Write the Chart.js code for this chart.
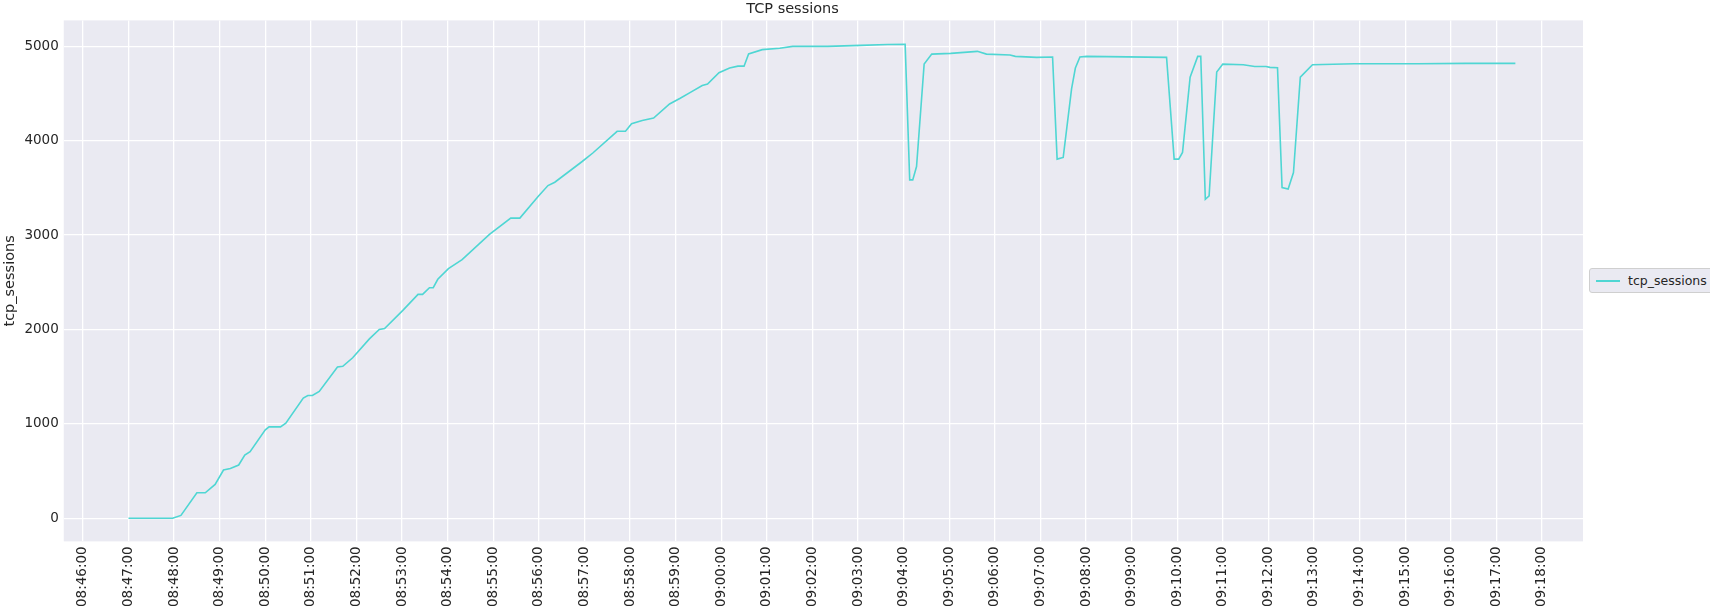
<!DOCTYPE html>
<html>
<head>
<meta charset="utf-8">
<script src="https://cdn.jsdelivr.net/npm/chart.js@4"></script>
<style>
  body { margin: 0; background: #fff; font-family: 'DejaVu Sans', sans-serif; }
  #wrap { position: relative; width: 1710px; height: 614px; }
  #legend { position: absolute; left: 1589px; top: 268px; background: #eaeaf2; border: 1px solid #cfcfcf; border-radius: 3px;
    padding: 4px 6px; font-size: 12.5px; color: #262626; display: flex; align-items: center; white-space: nowrap; }
  #legend span.sw { display: inline-block; width: 24px; height: 2px; background: #4fd6d3; margin-right: 8px; }
</style>
</head>
<body>
<div id="wrap">
  <canvas id="chart" width="1710" height="614"></canvas>
  <div id="legend"><span class="sw"></span>tcp_sessions</div>
</div>
<script>
const times = ['08:47:00','08:47:58','08:48:09','08:48:30','08:48:41','08:48:54','08:49:05','08:49:14','08:49:25','08:49:33','08:49:40',
  '08:50:00','08:50:05','08:50:20','08:50:27','08:50:50','08:50:56','08:51:02','08:51:11','08:51:35','08:51:42','08:51:55',
  '08:52:17','08:52:30','08:52:37','08:53:01','08:53:21','08:53:27','08:53:36','08:53:41','08:53:47','08:54:01','08:54:19',
  '08:54:55','08:55:23','08:55:35','08:55:59','08:56:12','08:56:21','08:56:57','08:57:11','08:57:43','08:57:54','08:58:02',
  '08:58:16','08:58:31','08:58:52','08:59:06','08:59:20','08:59:35','08:59:42','08:59:57','09:00:11','09:00:22','09:00:30',
  '09:00:36','09:00:54','09:01:17','09:01:34','09:02:20','09:03:03','09:03:39','09:04:02','09:04:08','09:04:12','09:04:17',
  '09:04:27','09:04:37','09:05:02','09:05:37','09:05:49','09:06:20','09:06:27','09:06:55','09:07:16','09:07:22','09:07:30',
  '09:07:41','09:07:46','09:07:52','09:08:01','09:09:46','09:09:56','09:10:02','09:10:07','09:10:17','09:10:27','09:10:31',
  '09:10:37','09:10:42','09:10:52','09:11:00','09:11:27','09:11:42','09:11:57','09:12:02','09:12:12','09:12:18','09:12:26',
  '09:12:33','09:12:42','09:12:58','09:13:53','09:15:16','09:16:20','09:17:25'];
const tcpSessions = [0,0,30,270,270,358,511,528,564,670,706,
  936,968,968,1007,1273,1301,1301,1344,1603,1610,1700,
  1900,2000,2010,2202,2372,2372,2443,2443,2532,2645,2740,
  3007,3180,3180,3410,3525,3560,3780,3870,4100,4100,4180,
  4215,4240,4390,4450,4515,4585,4600,4720,4770,4790,4790,
  4920,4965,4980,5000,5000,5010,5020,5021,3585,3585,3727,
  4812,4918,4926,4947,4918,4908,4894,4883,4887,3805,3823,
  4550,4770,4887,4894,4883,3805,3805,3876,4674,4894,4894,
  3379,3415,4727,4812,4805,4787,4787,4777,4773,3504,3489,
  3663,4674,4805,4816,4816,4820,4820];
const yTicks = [0, 1000, 2000, 3000, 4000, 5000];

// minutes since 08:46:00
function toMin(t) {
  const p = t.split(':').map(Number);
  return (p[0] * 60 + p[1] - (8 * 60 + 46)) + p[2] / 60;
}
function fmtMin(m) {
  const tot = 8 * 60 + 46 + Math.round(m);
  const h = Math.floor(tot / 60), mm = tot % 60;
  return String(h).padStart(2, '0') + ':' + String(mm).padStart(2, '0') + ':00';
}
const points = times.map((t, i) => ({x: toMin(t), y: tcpSessions[i]}));

const bgPlugin = {
  id: 'bg',
  beforeDraw(chart) {
    const {ctx, chartArea: a} = chart;
    ctx.save();
    ctx.fillStyle = '#eaeaf2';
    ctx.fillRect(a.left, a.top, a.right - a.left, a.bottom - a.top);
    ctx.restore();
  }
};

const font = {family: "'DejaVu Sans', sans-serif", size: 13.5};

new Chart(document.getElementById('chart'), {
  type: 'line',
  data: {
    datasets: [{
      label: 'tcp_sessions',
      data: points,
      borderColor: '#4fd6d3',
      borderWidth: 1.6,
      pointRadius: 0,
      tension: 0
    }]
  },
  options: {
    responsive: false,
    animation: false,
    layout: {padding: {left: 2, right: 127, top: 0, bottom: 2}},
    plugins: {
      legend: {display: false},
      tooltip: {enabled: false},
      title: {display: true, text: 'TCP sessions', color: '#262626', font: {family: font.family, size: 14.5, weight: 'normal'}, padding: {top: 1, bottom: 2}}
    },
    scales: {
      x: {
        type: 'linear',
        min: -0.42,
        max: 32.9,
        afterBuildTicks: s => { s.ticks = []; for (let m = 0; m <= 32; m++) s.ticks.push({value: m}); },
        ticks: {callback: v => fmtMin(v), minRotation: 90, maxRotation: 90, color: '#262626', font, padding: 5},
        grid: {color: '#ffffff', lineWidth: 1.3, drawTicks: false},
        border: {display: false}
      },
      y: {
        min: -245,
        max: 5275,
        afterBuildTicks: s => { s.ticks = yTicks.map(v => ({value: v})); },
        ticks: {callback: v => String(v), color: '#262626', font, padding: 5},
        grid: {color: '#ffffff', lineWidth: 1.3, drawTicks: false},
        border: {display: false},
        title: {display: true, text: 'tcp_sessions', color: '#262626', font: {family: font.family, size: 14.5}, padding: {top: 0, bottom: 0}}
      }
    }
  },
  plugins: [bgPlugin]
});
</script>
</body>
</html>
